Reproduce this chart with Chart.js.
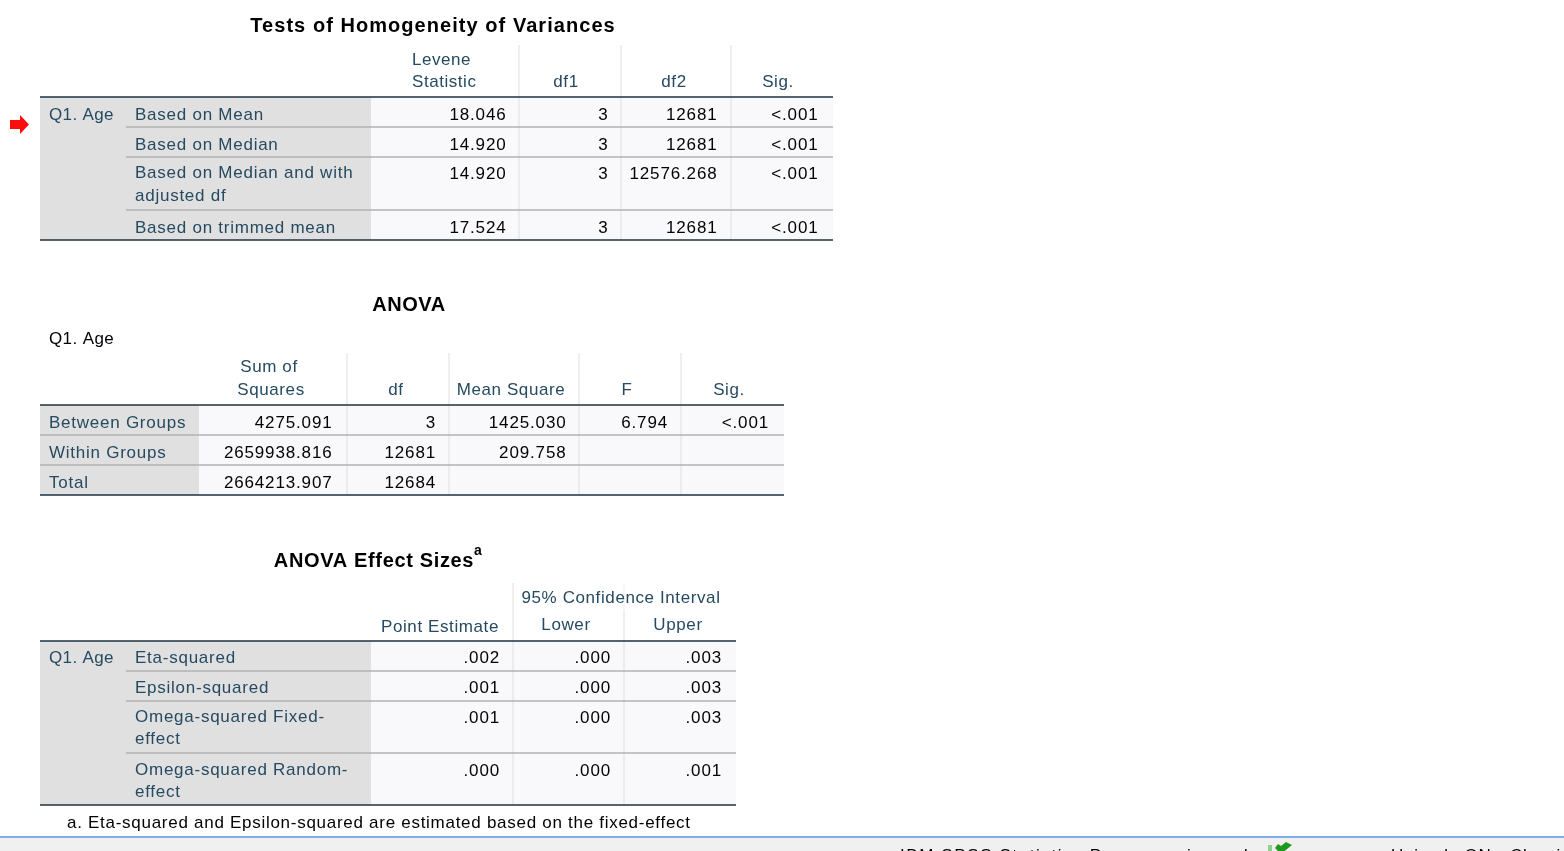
<!DOCTYPE html>
<html><head><meta charset="utf-8">
<script src="https://cdn.jsdelivr.net/npm/chart.js@4"></script>
<style>html,body{margin:0;padding:0;background:#fff;overflow:hidden}canvas{display:block;filter:blur(.4px)}</style>
</head><body><canvas id="c" width="1564" height="851"></canvas>
<script>
// ---------- table contents ----------
const homogeneityTitle = "Tests of Homogeneity of Variances";
const anovaTitle = "ANOVA";
const effectTitle = "ANOVA Effect Sizes";
const effectTitleMark = "a";
const dependentLabel = "Q1. Age";
const effectFootnote = "a. Eta-squared and Epsilon-squared are estimated based on the fixed-effect";

const homogeneityRows = [["Based on Mean"],["Based on Median"],["Based on Median and with","adjusted df"],["Based on trimmed mean"]];
const leveneValues = ["18.046","14.920","14.920","17.524"];
const levene_df1 = ["3","3","3","3"];
const levene_df2 = ["12681","12681","12576.268","12681"];
const leveneSig = ["<.001","<.001","<.001","<.001"];

const anovaRows = ["Between Groups","Within Groups","Total"];
const sumOfSquares = ["4275.091","2659938.816","2664213.907"];
const anovaDf = ["3","12681","12684"];
const meanSquare = ["1425.030","209.758",""];
const fValues = ["6.794","",""];
const anovaSig = ["<.001","",""];

const effectRows = [["Eta-squared"],["Epsilon-squared"],["Omega-squared Fixed-","effect"],["Omega-squared Random-","effect"]];
const pointEstimate = [".002",".001",".001",".000"];
const ciLower = [".000",".000",".000",".000"];
const ciUpper = [".003",".003",".003",".001"];

const statusReady = "IBM SPSS Statistics Processor is ready";
const statusUnicode = "Unicode:ON";
const statusMode = "Classic";

// ---------- page layout (scale units = page units) ----------
const LH = 22.5;
const L1 = {left:40, stub:126, body:371, right:833, cols:[519,621,731], numRight:[506.5,608.5,717.5,818.5], rows:[115,145,174,228], rules:[127,157,210], top:45, head:97, bottom:240};
const L2 = {left:40, body:199, right:784, cols:[347,449,579,681], numRight:[332.5,436,566.5,668,769], rows:[423,453,483], rules:[435,465], top:353, head:405, bottom:495};
const L3 = {left:40, stub:126, body:371, right:736, cols:[513,624], numRight:[500,611,722], rows:[658,688,718,771], rules:[671,701,753], top:583, head:641, bottom:805};

const base = {font:'17px "Liberation Sans"'};
const P = {
  titleA:{font:'bold 20px "Liberation Sans"',color:'#000',spacing:'1.05px',align:'center'},
  titleB:{font:'bold 20px "Liberation Sans"',color:'#000',spacing:'.55px',align:'center'},
  titleC:{font:'bold 20px "Liberation Sans"',color:'#000',spacing:'.65px',align:'center'},
  head:{...base,color:'#264a60',spacing:'.6px',align:'center'},
  headL:{...base,color:'#264a60',spacing:'.55px',align:'left'},
  stub:{...base,color:'#264a60',spacing:'.75px',align:'left'},
  stubTight:{...base,color:'#264a60',spacing:'.35px',align:'left'},
  num:{...base,color:'#010205',spacing:'.85px',align:'right'},
  plain:{...base,color:'#010205',spacing:'.72px',align:'left'},
  plainTight:{...base,color:'#010205',spacing:'.4px',align:'left'},
  mark:{font:'bold 14px "Liberation Sans"',color:'#000',spacing:'0px',align:'left'},
  status:{...base,color:'#000',spacing:'1.6px',align:'left'},
  status2:{...base,color:'#000',spacing:'.8px',align:'left'}
};
const pts = [];
const put=(x,y,text,style)=>{ if(text) pts.push({x,y,text,style}); };

// titles & free text
put(433,26,homogeneityTitle,P.titleA);
put(409,305,anovaTitle,P.titleB);
put(374,561,effectTitle,P.titleC);
put(474,551,effectTitleMark,P.mark);
put(49,339,dependentLabel,P.plainTight);
put(67,823,effectFootnote,P.plain);
put(900,856,statusReady,P.status);
put(1391,856,statusUnicode,P.status2);
put(1510,856,statusMode,P.status2);

// table 1
put(412,60,"Levene",P.headL); put(412,82,"Statistic",P.headL);
[["df1",566],["df2",674],["Sig.",778]].forEach(([t,x])=>put(x,82,t,P.head));
put(49,115,dependentLabel,P.stubTight);
homogeneityRows.forEach((lines,r)=>lines.forEach((t,i)=>put(135,L1.rows[r]-(lines.length>1?1:0)+i*(LH+.5),t,P.stub)));
[leveneValues,levene_df1,levene_df2,leveneSig].forEach((col,c)=>col.forEach((t,r)=>put(L1.numRight[c],L1.rows[r],t,P.num)));

// table 2
put(269,367,"Sum of",P.head); put(271,390,"Squares",P.head);
[["df",396],["Mean Square",511],["F",627],["Sig.",729]].forEach(([t,x])=>put(x,390,t,P.head));
anovaRows.forEach((t,r)=>put(49,L2.rows[r],t,P.stub));
[sumOfSquares,anovaDf,meanSquare,fValues,anovaSig].forEach((col,c)=>col.forEach((t,r)=>put(L2.numRight[c],L2.rows[r],t,P.num)));

// table 3
put(621,598,"95% Confidence Interval",P.head);
put(440,627,"Point Estimate",P.head);
put(566,625,"Lower",P.head); put(678,625,"Upper",P.head);
put(49,658,dependentLabel,P.stubTight);
effectRows.forEach((lines,r)=>lines.forEach((t,i)=>put(135,L3.rows[r]-(lines.length>1?1:0)+i*LH,t,P.stub)));
[pointEstimate,ciLower,ciUpper].forEach((col,c)=>col.forEach((t,r)=>put(L3.numRight[c],L3.rows[r],t,P.num)));

const tablePlugin = {
  id:'tablePlugin',
  beforeDatasetsDraw(chart){
    const {ctx,scales:{x:sx,y:sy}} = chart;
    const X=v=>sx.getPixelForValue(v), Y=v=>sy.getPixelForValue(v);
    const rect=(x0,y0,x1,y1,c)=>{ctx.fillStyle=c;ctx.fillRect(X(x0),Y(y0),X(x1)-X(x0),Y(y1)-Y(y0));};
    const hline=(x0,x1,y,c,w)=>rect(x0,y-w/2,x1,y+w/2,c);
    const vline=(x,y0,y1,c)=>rect(x-.5,y0,x+.5,y1,c);
    const GREY='#e0e0e0',BODY='#f9f9fb',RULE='#aeaeae',HEAVY='#2c3f4c',V='#e0e0e0';
    ctx.save();
    [L1,L2,L3].forEach(L=>{
      rect(L.left,L.head,L.body,L.bottom,GREY);
      rect(L.body,L.head,L.right,L.bottom,BODY);
      const ruleStart=L.stub||L.left;
      L.cols.forEach(c=>vline(c,L.top,L.bottom,V));
      L.rules.forEach(y=>hline(ruleStart,L.right,y,RULE,1.4));
      hline(L.left,L.right,L.head,HEAVY,1.6);
      hline(L.left,L.right,L.bottom,HEAVY,1.6);
    });
    // the Lower/Upper divider starts below the spanning header
    rect(624-.5,583,624+.5,611,'#ffffff');
    // status bar
    rect(0,838,1564,851,'#f0f0f0');
    hline(0,1564,837,'#4a86e0',1.4);
    // current-output arrow
    const poly=(arr,c)=>{ctx.fillStyle=c;ctx.beginPath();arr.forEach(([a,b],i)=>i?ctx.lineTo(X(a),Y(b)):ctx.moveTo(X(a),Y(b)));ctx.closePath();ctx.fill();};
    poly([[10,120],[20,120],[20,115],[29,124.5],[20,134],[20,129],[10,129]],'#ff0d0d');
    // ready tick
    rect(1268,845,1272,851,'#8fd08f');
    poly([[1275,848],[1278,844],[1281,846],[1286,842],[1292,845],[1281,854]],'#1f9a1f');
    ctx.restore();
  },
  afterDatasetsDraw(chart){
    const ctx=chart.ctx, meta=chart.getDatasetMeta(0);
    ctx.save();
    ctx.textBaseline='middle';
    meta.data.forEach((el,i)=>{
      const d=chart.data.datasets[0].data[i], s=d.style;
      ctx.font=s.font; ctx.fillStyle=s.color; ctx.textAlign=s.align; ctx.letterSpacing=s.spacing;
      ctx.fillText(d.text,el.x,el.y);
    });
    ctx.restore();
  }
};

new Chart(document.getElementById('c'),{
  type:'scatter',
  data:{datasets:[{data:pts,pointRadius:0,pointHoverRadius:0,showLine:false}]},
  options:{
    responsive:false,animation:false,devicePixelRatio:1,
    layout:{padding:0},
    events:[],
    plugins:{legend:{display:false},tooltip:{enabled:false},title:{display:false}},
    scales:{
      x:{type:'linear',display:false,min:0,max:1564},
      y:{type:'linear',display:false,min:0,max:851,reverse:true}
    }
  },
  plugins:[tablePlugin]
});
</script></body></html>
